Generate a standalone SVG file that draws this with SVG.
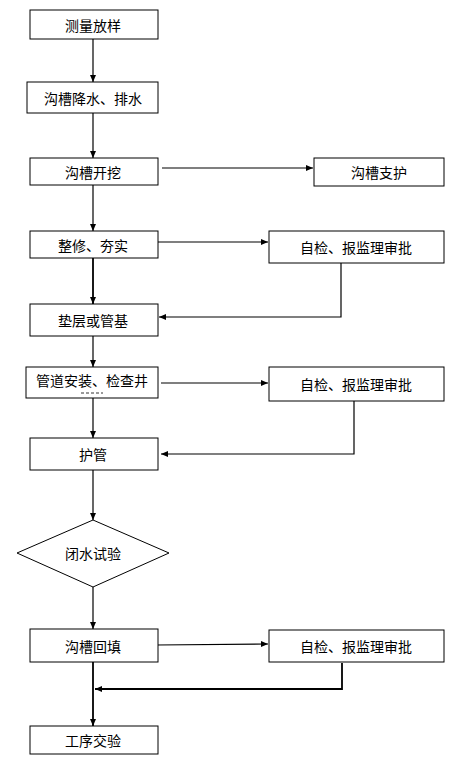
<svg xmlns="http://www.w3.org/2000/svg" width="470" height="757" viewBox="0 0 470 757">
<style>
.box{fill:#fff;stroke:#000;stroke-width:1}
.t{font-family:"Noto Sans CJK SC","Liberation Sans",sans-serif;font-size:14px;fill:#000;text-anchor:middle;dominant-baseline:central}
.c{fill:none;stroke:#000;stroke-width:1.2}
.thick{stroke-width:1.8}
</style>
<defs>
<marker id="ah" markerUnits="userSpaceOnUse" markerWidth="8" markerHeight="8" refX="7" refY="4" orient="auto">
<path d="M0,1 L7,4 L0,7 Z" fill="#000"/>
</marker>
</defs>
<rect width="470" height="757" fill="#fff"/>
<g id="connectors">
<line class="c" x1="93" y1="39" x2="93" y2="82" marker-end="url(#ah)"/>
<line class="c" x1="93" y1="113" x2="93" y2="158" marker-end="url(#ah)"/>
<line class="c" x1="93" y1="185" x2="93" y2="231" marker-end="url(#ah)"/>
<line class="c thick" x1="93" y1="258" x2="93" y2="304" marker-end="url(#ah)"/>
<line class="c" x1="93" y1="336" x2="93" y2="367" marker-end="url(#ah)"/>
<line class="c" x1="93" y1="398" x2="93" y2="438" marker-end="url(#ah)"/>
<line class="c" x1="93" y1="470" x2="93" y2="520" marker-end="url(#ah)"/>
<line class="c" x1="93" y1="587" x2="93" y2="629" marker-end="url(#ah)"/>
<line class="c thick" x1="93" y1="662" x2="93" y2="726" marker-end="url(#ah)"/>
<line class="c" x1="162" y1="168" x2="313" y2="168" marker-end="url(#ah)"/>
<line class="c" x1="158" y1="242" x2="268" y2="242" marker-end="url(#ah)"/>
<polyline class="c" points="341,263 341,317 159,317" marker-end="url(#ah)"/>
<line class="c" x1="161" y1="383" x2="268" y2="383" marker-end="url(#ah)"/>
<polyline class="c" points="354,401 354,454 161,454" marker-end="url(#ah)"/>
<line class="c" x1="156" y1="645" x2="268" y2="644" marker-end="url(#ah)"/>
<polyline class="c thick" points="342,663 342,689 95,689" marker-end="url(#ah)"/>
</g>
<g id="n1"><rect class="box" x="30" y="10" width="128" height="29"/><text class="t" x="93" y="24.5">测量放样</text></g>
<g id="n2"><rect class="box" x="27" y="82" width="131" height="31"/><text class="t" x="93" y="97.5">沟槽降水、排水</text></g>
<g id="n3"><rect class="box" x="30" y="158" width="128" height="27"/><text class="t" x="93" y="171.5">沟槽开挖</text></g>
<g id="n4"><rect class="box" x="314" y="158" width="130" height="28"/><text class="t" x="379" y="172">沟槽支护</text></g>
<g id="n5"><rect class="box" x="30" y="231" width="128" height="27"/><text class="t" x="93" y="244.5">整修、夯实</text></g>
<g id="n6"><rect class="box" x="269" y="231" width="175" height="32"/><text class="t" x="356" y="247">自检、报监理审批</text></g>
<g id="n7"><rect class="box" x="30" y="304" width="128" height="32"/><text class="t" x="93" y="320">垫层或管基</text></g>
<g id="n8"><rect class="box" x="26" y="367" width="132" height="31"/><text class="t" x="92" y="380">管道安装、检查井</text><line x1="81" y1="393" x2="103" y2="393" stroke="#000" stroke-width="0.8" stroke-dasharray="3,2"/></g>
<g id="n9"><rect class="box" x="269" y="367" width="175" height="34"/><text class="t" x="356" y="384">自检、报监理审批</text></g>
<g id="n10"><rect class="box" x="30" y="438" width="128" height="32"/><text class="t" x="93" y="454">护管</text></g>
<g id="n11"><polygon class="box" points="93,520 169,553 93,587 17,553"/><text class="t" x="93" y="553">闭水试验</text></g>
<g id="n12"><rect class="box" x="30" y="629" width="128" height="33"/><text class="t" x="93" y="645.5">沟槽回填</text></g>
<g id="n13"><rect class="box" x="269" y="630" width="175" height="32"/><text class="t" x="356" y="646">自检、报监理审批</text></g>
<g id="n14"><rect class="box" x="30" y="726" width="128" height="28"/><text class="t" x="93" y="740">工序交验</text></g>
</svg>
